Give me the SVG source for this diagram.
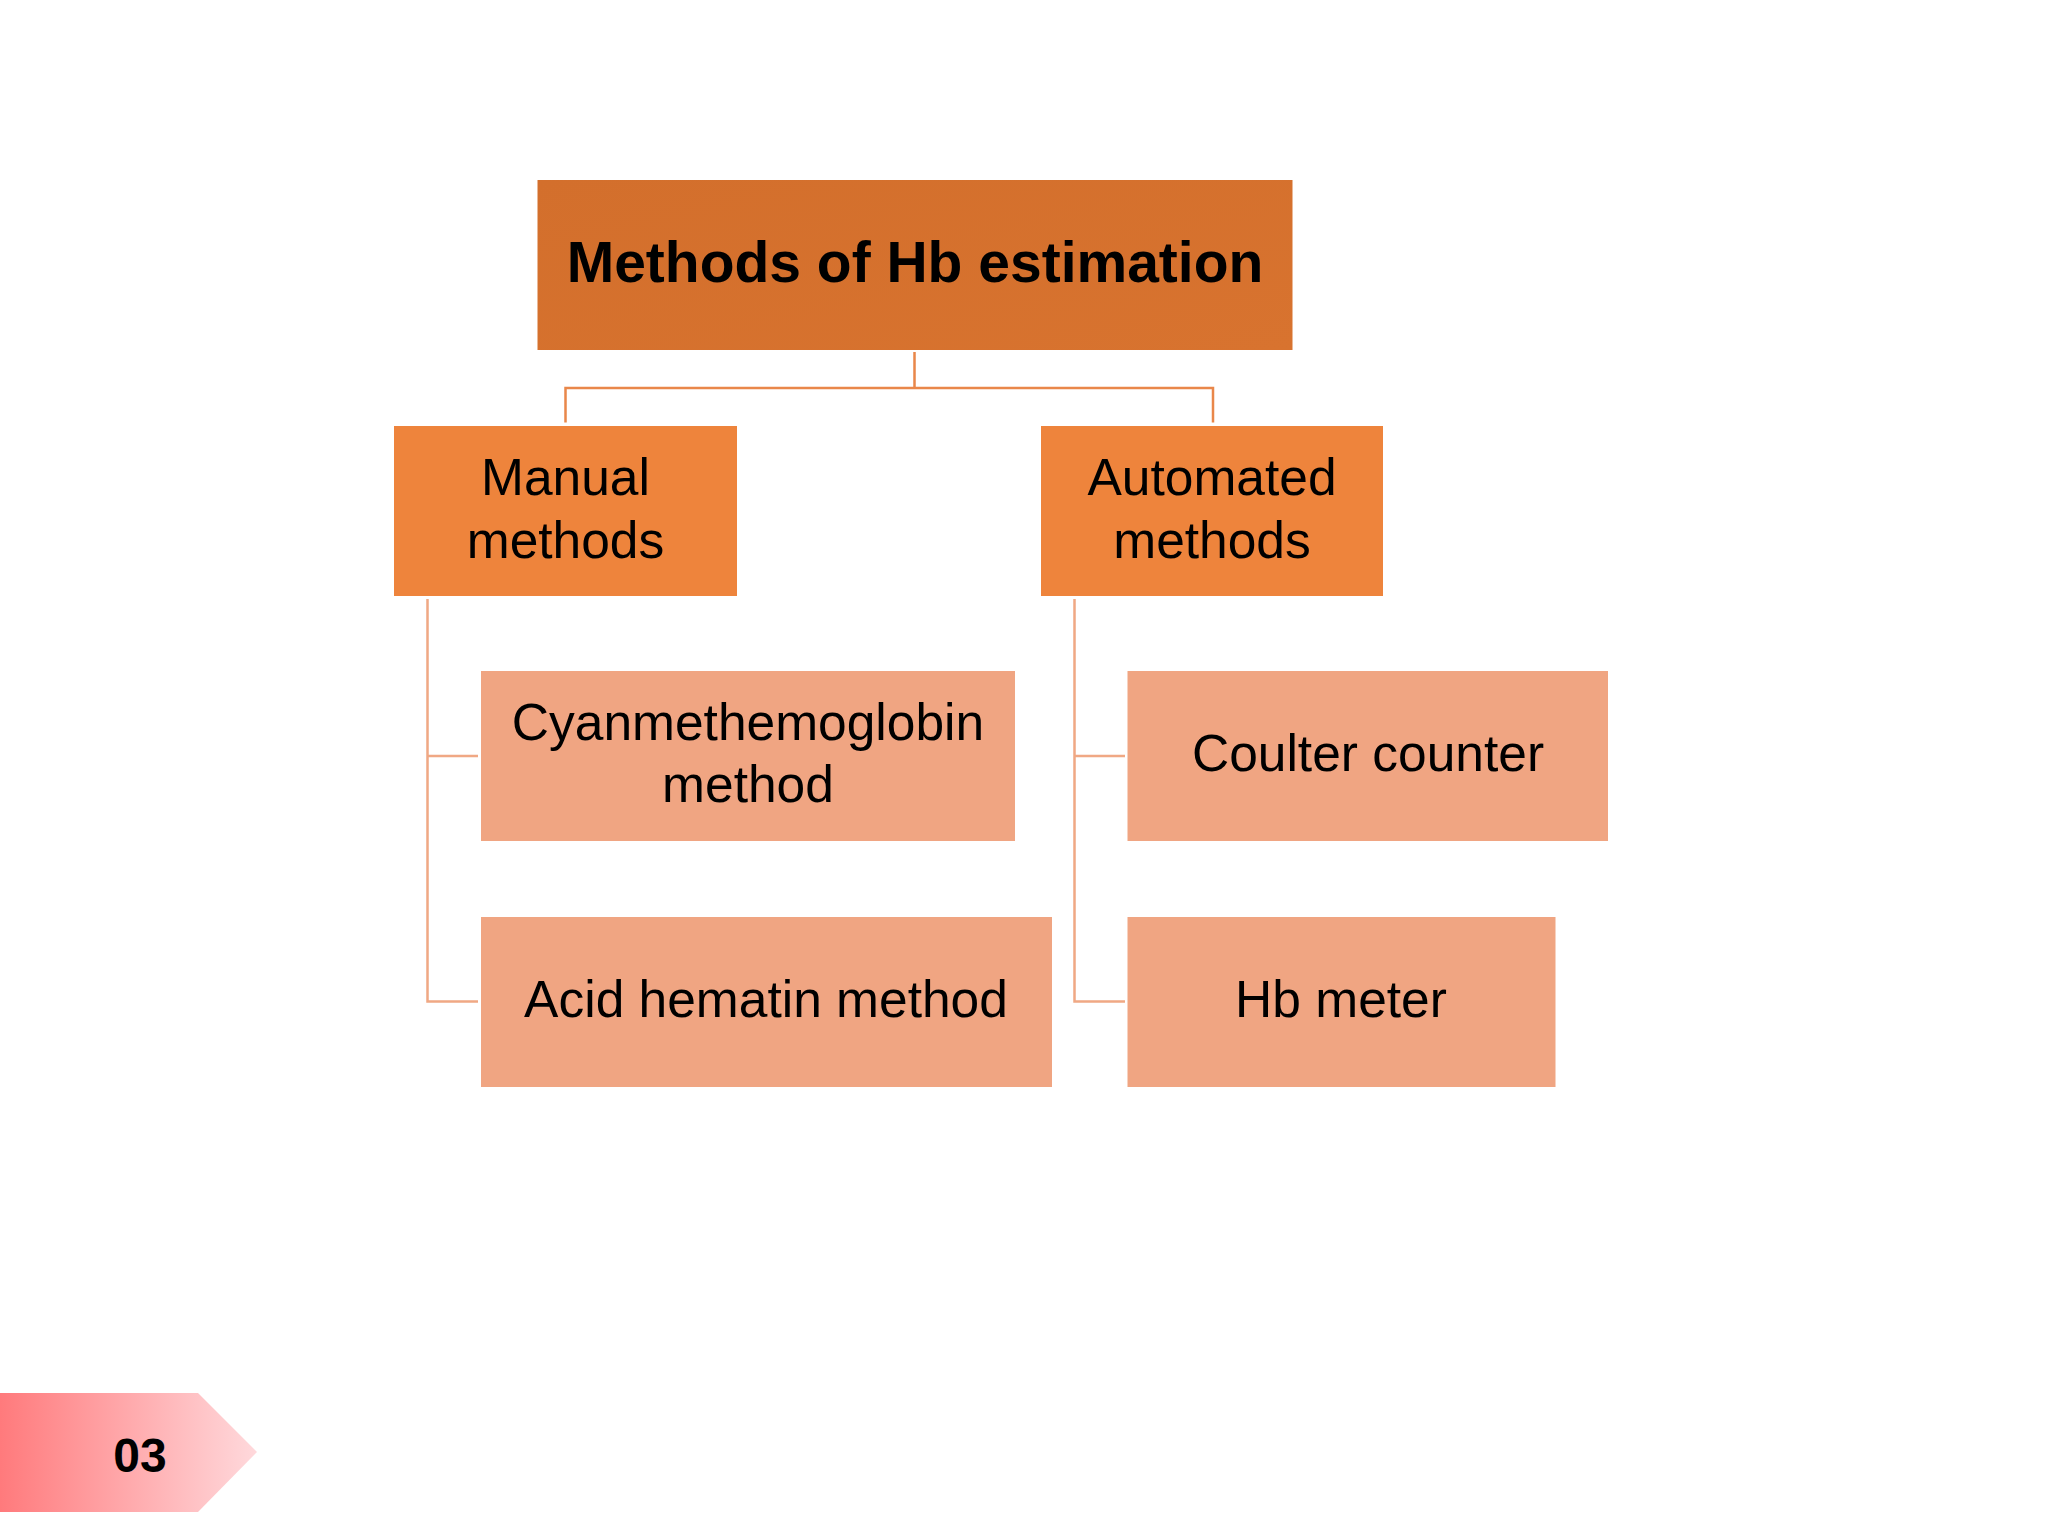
<svg xmlns="http://www.w3.org/2000/svg" width="2048" height="1536" viewBox="0 0 2048 1536">
<defs>
<linearGradient id="tagGrad" x1="0" y1="0" x2="1" y2="0">
<stop offset="0" stop-color="#FF7A7C"/>
<stop offset="1" stop-color="#FFD9DC"/>
</linearGradient>
<linearGradient id="topGrad" x1="0" y1="0" x2="1" y2="1">
<stop offset="0" stop-color="#D36F2C"/>
<stop offset="1" stop-color="#D8732F"/>
</linearGradient>
</defs>
<style>
.top{fill:url(#topGrad);}
.mid{fill:#EE843C;}
.leaf{fill:#F0A582;}
.t{font-family:"Liberation Sans",Arial,sans-serif;fill:#000;text-anchor:middle;}
.tb{font-weight:bold;font-size:57px;}
.tm{font-size:51.5px;}
.c1{fill:none;stroke:#E9874A;stroke-width:2.5;}
.c2{fill:none;stroke:#F0A884;stroke-width:2.5;}
</style>
<rect width="2048" height="1536" fill="#FFFFFF"/>
<g id="connectors">
<path class="c1" d="M914.5,352 V388 M565.5,422.5 V388 H1213 V422.5"/>
<path class="c2" d="M427.5,599 V1001.5 H478 M427.5,756 H478"/>
<path class="c2" d="M1074.5,599 V1001.5 H1125 M1074.5,756 H1125"/>
</g>
<g id="node-root">
<rect class="top" x="537.5" y="180" width="755" height="170"/>
<text class="t tb" x="915" y="282">Methods of Hb estimation</text>
</g>
<g id="node-manual">
<rect class="mid" x="394" y="426" width="343" height="170"/>
<text class="t tm" x="565.5" y="495">Manual</text>
<text class="t tm" x="565.5" y="558">methods</text>
</g>
<g id="node-automated">
<rect class="mid" x="1041" y="426" width="342" height="170"/>
<text class="t tm" x="1212" y="495">Automated</text>
<text class="t tm" x="1212" y="558">methods</text>
</g>
<g id="node-cyan">
<rect class="leaf" x="481" y="671" width="534" height="170"/>
<text class="t tm" x="748" y="740">Cyanmethemoglobin</text>
<text class="t tm" x="748" y="802">method</text>
</g>
<g id="node-acid">
<rect class="leaf" x="481" y="917" width="571" height="170"/>
<text class="t tm" x="766" y="1017">Acid hematin method</text>
</g>
<g id="node-coulter">
<rect class="leaf" x="1127.5" y="671" width="480.5" height="170"/>
<text class="t tm" x="1368" y="771">Coulter counter</text>
</g>
<g id="node-hbmeter">
<rect class="leaf" x="1127.5" y="917" width="428" height="170"/>
<text class="t tm" x="1341" y="1017">Hb meter</text>
</g>
<g id="tag">
<polygon points="0,1393 198,1393 257,1452 198,1512 0,1512" fill="url(#tagGrad)"/>
<text class="t" x="140" y="1472" style="font-weight:bold;font-size:48px;">03</text>
</g>
</svg>
